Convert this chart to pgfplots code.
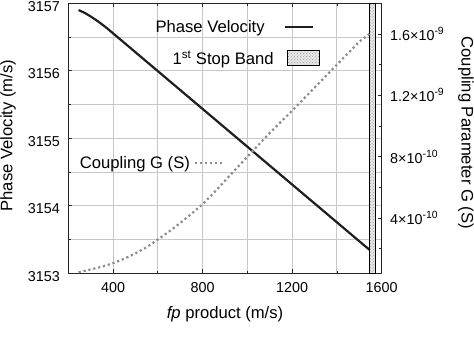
\documentclass[border=0pt]{standalone}
\usepackage{pgfplots}
\pgfplotsset{compat=1.18}
\usepackage{fontspec}
\setmainfont{Liberation Sans}
\usetikzlibrary{patterns}
\definecolor{gridc}{HTML}{C8C8C8}
\definecolor{dotc}{HTML}{8C8C8C}
\definecolor{linec}{HTML}{1E1E1E}
\newcommand{\expo}[1]{\raisebox{0.42em}{\fontsize{10.5}{12}\selectfont #1}}
\pgfplotsset{
  lineleg/.style={legend image code/.code={\draw[##1] (-3bp,0bp) -- (25bp,0bp);}},
  boxleg/.style={legend image code/.code={\draw[##1] (0bp,-7.5bp) rectangle (32bp,7.5bp);}},
  dotleg/.style={legend image code/.code={\draw[##1] (0bp,0bp) -- (28bp,0bp);}},
}
\begin{document}
\begin{tikzpicture}
\useasboundingbox (-68.3bp,-74.7bp) rectangle (405.7bp,273.3bp);
\pgfplotsset{
  every axis/.append style={
    scale only axis, width=313.4bp, height=270bp,
    xmin=200, xmax=1600,
    font=\fontsize{16.7}{19}\selectfont,
    tick label style={font=\fontsize{14.4}{16}\selectfont},
    /pgf/number format/assume math mode=true,
    /pgf/number format/1000 sep={},
    tick align=inside, major tick length=4bp, minor tick length=2.5bp,
    axis line style={line width=1pt, black!85},
    tick style={line width=0.8pt, black!85},
  }
}
\begin{axis}[
  ymin=3153, ymax=3157,
  xtick={400,800,1200,1600}, minor xtick={200,600,1000,1400},
  ytick={3153,3154,3155,3156,3157}, minor ytick={3153.5,3154.5,3155.5,3156.5},
  xmajorgrids=true, xminorgrids=true, ymajorgrids=true, yminorgrids=true,
  major grid style={draw=gridc, line width=1.1bp},
  minor grid style={draw=gridc, line width=1.1bp},
  ytick pos=left, xtick pos=both,
  yticklabel style={xshift=-5bp, yshift=-3bp},
  xticklabel style={yshift=-6bp},
  xlabel={\textit{fp} product (m/s)},
  xlabel style={at={(rel axis cs:0.5,0)}, anchor=center, yshift=-41bp},
  ylabel={Phase Velocity (m/s)},
  ylabel style={at={(rel axis cs:-0.192,0.51)}, anchor=center},
  legend plot pos=right,
  legend cell align=right,
  legend style={at={(rel axis cs:0.805,0.946)}, anchor=north east, draw=none, fill=none,
    inner sep=0pt, font=\fontsize{16.7}{19}\selectfont,
    nodes={inner sep=2bp}, column sep=8bp, row sep=13bp},
]
\addplot[linec, line width=2.2bp, lineleg]
coordinates {
(246,3156.90) (275,3156.855) (300,3156.805) (325,3156.75) (350,3156.69)
(375,3156.625) (400,3156.555) (450,3156.415) (500,3156.275) (600,3155.995)
(700,3155.715) (800,3155.435) (900,3155.155) (1000,3154.875) (1100,3154.595)
(1200,3154.315) (1300,3154.035) (1400,3153.755) (1500,3153.475) (1545,3153.35)
};
\addlegendentry{Phase Velocity\hspace*{9bp}}
\addplot[draw=black, line width=1.2pt, fill=gray!18,
  postaction={pattern=crosshatch dots, pattern color=gray!80}, boxleg]
coordinates {(1545,3153) (1545,3157) (1573,3157) (1573,3153)} -- cycle;
\addlegendentry{1\textsuperscript{st} Stop Band}
\end{axis}
\begin{axis}[
  axis x line=none, axis y line*=right,
  ymin=0.04e-9, ymax=1.8e-9,
  scaled y ticks=false,
  ytick={0.4e-9,0.8e-9,1.2e-9,1.6e-9},
  yticklabels={4×10\expo{-10}, 8×10\expo{-10}, 1.2×10\expo{-9}, 1.6×10\expo{-9}},
  minor ytick={0.2e-9,0.6e-9,1.0e-9,1.4e-9},
  yticklabel style={xshift=5bp},
  ylabel={Coupling Parameter G (S)},
  ylabel style={at={(rel axis cs:1.269,0.52)}, anchor=center, rotate=180},
  legend plot pos=right,
  legend cell align=right,
  legend style={at={(rel axis cs:0.03,0.409)}, anchor=west, draw=none, fill=none,
    inner sep=0pt, font=\fontsize{16.7}{19}\selectfont,
    nodes={inner sep=2bp}, column sep=2bp},
]
\addplot[dotc, line width=2.2bp, dash pattern=on 2.2bp off 2.8bp, dotleg]
coordinates {
(246,0.047e-9) (300,0.065e-9) (350,0.083e-9) (400,0.106e-9) (450,0.135e-9)
(500,0.17e-9) (550,0.21e-9) (600,0.26e-9) (650,0.312e-9) (700,0.368e-9)
(750,0.428e-9) (800,0.49e-9) (850,0.565e-9) (900,0.643e-9) (950,0.722e-9)
(1000,0.80e-9) (1100,0.955e-9) (1200,1.10e-9) (1300,1.25e-9) (1400,1.40e-9)
(1500,1.55e-9) (1545,1.60e-9)
};
\addlegendentry{Coupling G (S)}
\end{axis}
\end{tikzpicture}
\end{document}
